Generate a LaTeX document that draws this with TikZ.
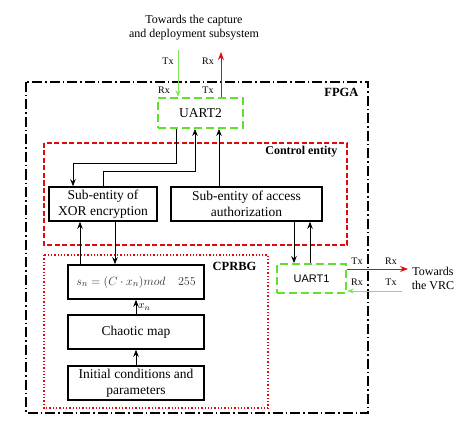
\documentclass[tikz,border=0pt]{standalone}
\usepackage{fontspec}
\setmainfont{Liberation Serif}
\newfontfamily\uartsans{Liberation Sans}
\usetikzlibrary{arrows.meta}

\definecolor{uartgreen}{RGB}{95,225,45}
\definecolor{linkgreen}{RGB}{130,230,90}
\definecolor{linkred}{RGB}{225,10,10}

\begin{document}
\begin{tikzpicture}[x=1pt, y=-1pt,
    block/.style={draw, line width=1.5pt, align=center, inner sep=0pt,
        font=\fontsize{13.5}{16}\selectfont},
    uart/.style={draw=uartgreen, line width=1.8pt, dash pattern=on 8pt off 4pt, inner sep=0pt},
    arr/.style={-{Stealth[length=7pt, width=5.5pt]}, line width=0.8pt},
    port/.style={font=\fontsize{10}{12}\selectfont, inner sep=1pt},
    title/.style={font=\fontsize{12.5}{14}\selectfont\bfseries}]

    \useasboundingbox (0,0) rectangle (474,425);

    % regions
    \draw[line width=1.6pt, dash pattern=on 10pt off 3pt on 1.5pt off 3pt] (26,82) rectangle (368,413);
    \node[title, anchor=east] (fpga) at (362,92) {FPGA};
    \draw[linkred, line width=1.2pt, dash pattern=on 5pt off 2.5pt] (44,143) rectangle (347,245);
    \node[title, font=\fontsize{12}{14}\selectfont\bfseries, anchor=east] (ctrl) at (341,152) {Control entity};
    \draw[linkred, line width=1.3pt, dotted] (44,255) rectangle (268,408);
    \node[title, anchor=east] (cprbg) at (260,266) {CPRBG};

    % blocks
    \node[uart, minimum width=85pt, minimum height=30pt, font=\fontsize{13.5}{16}\selectfont] (uart2) at (200.5,113) {UART2};
    \node[uart, minimum width=69pt, minimum height=29pt, font=\uartsans\fontsize{11}{13}\selectfont] (uart1) at (311.5,278.5) {UART1};
    \node[block, minimum width=108pt, minimum height=34pt] (xor) at (103,204) {Sub-entity of\\XOR encryption};
    \node[block, minimum width=151pt, minimum height=34pt] (access) at (246.5,204) {Sub-entity of access\\authorization};
    \node[block, minimum width=136pt, minimum height=34pt] (sn) at (136,282)
        {\color{black!80}\fontsize{12.5}{14}\selectfont$s_n=(C\cdot x_n)mod\quad 255$};
    \node[block, minimum width=136pt, minimum height=34pt] (chaos) at (136,332) {Chaotic map};
    \node[block, minimum width=136pt, minimum height=34pt] (init) at (136,383) {Initial conditions and\\parameters};

    % inner links
    \draw[arr] ([xshift=-24.5pt]uart2.south) -- ++(0,35) -| ([xshift=-30pt]xor.north);
    \draw[arr] (xor.north) -- ++(0,-15) -| ([xshift=-5.5pt]uart2.south);
    \draw[arr] ([xshift=-27.5pt]access.north) -- ([xshift=18.5pt]uart2.south);
    \draw[arr] ([xshift=-56pt]sn.north) -- ([xshift=-23pt]xor.south);
    \draw[arr] ([xshift=12pt]xor.south) -- ([xshift=-21pt]sn.north);
    \draw[arr] ([xshift=47.5pt]access.south) -- ([xshift=-17.5pt]uart1.north);
    \draw[arr] ([xshift=-1.5pt]uart1.north) -- ([xshift=63.5pt]access.south);
    \draw[arr] (chaos.north) -- (sn.south) node[midway, right, font=\fontsize{11}{12}\selectfont, inner sep=2pt] {$x_n$};
    \draw[arr] (init.north) -- (chaos.south);

    % outside links
    \node[align=center, font=\fontsize{12}{14}\selectfont] (capture) at (194,28) {Towards the capture\\and deployment subsystem};
    \coordinate (captx) at (178,50);
    \coordinate (caprx) at (221,52);
    \draw[-{Stealth[length=7pt, width=5pt]}, linkgreen, line width=1pt] (captx) -- ([xshift=-22.5pt]uart2.north);
    \draw[-{Stealth[length=8pt, width=6pt]}, linkred, line width=1pt] ([xshift=20.5pt]uart2.north) -- (caprx);
    \node[port] (t2tx) at (168,61) {Tx};
    \node[port] (t2rx) at (208,61) {Rx};
    \node[port] (u2rx) at (164,90) {Rx};
    \node[port] (u2tx) at (208,90) {Tx};

    \node[align=center, font=\fontsize{12}{14}\selectfont] (vrc) at (433,278) {Towards\\the VRC};
    \coordinate (vrcrx) at (408,269);
    \coordinate (vrctx) at (402,291);
    \draw[-{Stealth[length=8pt, width=6pt]}, linkred, line width=1pt] ([yshift=9.5pt]uart1.east) -- (vrcrx);
    \draw[-{Stealth[length=7pt, width=5pt]}, linkgreen, line width=1pt] (vrctx) -- ([yshift=-12.5pt]uart1.east);
    \node[port] (u1tx) at (357,261) {Tx};
    \node[port] (v1rx) at (391,261) {Rx};
    \node[port] (u1rx) at (357,282) {Rx};
    \node[port] (v1tx) at (391,282) {Tx};
\end{tikzpicture}
\end{document}
